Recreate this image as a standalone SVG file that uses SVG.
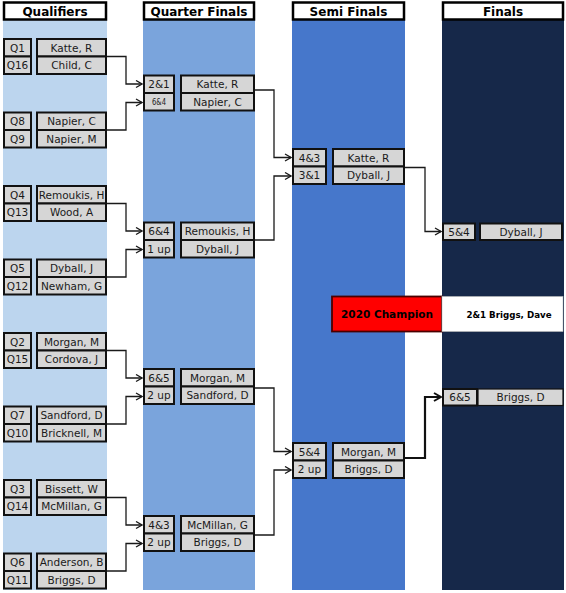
<svg xmlns="http://www.w3.org/2000/svg" width="566" height="593" viewBox="0 0 566 593">
<style>
.bg{stroke:none}
.hd{fill:#fff;stroke:#000;stroke-width:2.5}
.ht{font-family:"DejaVu Sans",Verdana,sans-serif;font-weight:bold;font-size:12px;fill:#000;text-anchor:middle}
.b{fill:#d6d6d6;stroke:#111;stroke-width:2}
.t{font-family:"DejaVu Sans",Verdana,sans-serif;font-size:10.5px;fill:#1a1a1a;text-anchor:middle}
.c{fill:none;stroke:#1a1a1a;stroke-width:1.3}
.ct{fill:none;stroke:#111;stroke-width:2.2}
</style>
<defs>
<marker id="ar" markerUnits="userSpaceOnUse" markerWidth="9" markerHeight="9" refX="8" refY="4.5" orient="auto">
<path d="M2,1 L8,4.5 L2,8" fill="none" stroke="#1a1a1a" stroke-width="1.3"/>
</marker>
<marker id="ar2" markerUnits="userSpaceOnUse" markerWidth="10" markerHeight="10" refX="9" refY="5" orient="auto">
<path d="M2,1 L9,5 L2,9" fill="none" stroke="#111" stroke-width="2"/>
</marker>
</defs>
<rect width="566" height="593" fill="#fff"/>
<g id="columns">
<rect class="bg" x="3" y="20" width="104" height="570" fill="#bcd5ee"/>
<rect class="bg" x="143" y="20" width="112" height="570" fill="#7aa4dc"/>
<rect class="bg" x="292" y="20" width="113" height="570" fill="#4677cb"/>
<rect class="bg" x="442" y="20" width="122" height="570" fill="#162849"/>
</g>
<g id="headers">
<rect class="hd" x="4" y="2.5" width="102" height="17"/><text class="ht" x="55" y="15.5">Qualifiers</text>
<rect class="hd" x="144" y="2.5" width="110" height="17"/><text class="ht" x="199" y="15.5">Quarter Finals</text>
<rect class="hd" x="293" y="2.5" width="111" height="17"/><text class="ht" x="348.5" y="15.5">Semi Finals</text>
<rect class="hd" x="443" y="2.5" width="120" height="17"/><text class="ht" x="503" y="15.5">Finals</text>
</g>
<g id="connectors">
<path class="c" d="M107,56.5 H126 V84 H142" marker-end="url(#ar)"/>
<path class="c" d="M107,130 H126 V102.5 H142" marker-end="url(#ar)"/>
<path class="c" d="M107,203.5 H126 V231 H142" marker-end="url(#ar)"/>
<path class="c" d="M107,277 H126 V249.5 H142" marker-end="url(#ar)"/>
<path class="c" d="M107,350.5 H126 V378 H142" marker-end="url(#ar)"/>
<path class="c" d="M107,424 H126 V396.5 H142" marker-end="url(#ar)"/>
<path class="c" d="M107,497.5 H126 V525 H142" marker-end="url(#ar)"/>
<path class="c" d="M107,571 H126 V543.5 H142" marker-end="url(#ar)"/>
<path class="c" d="M255,90 H274 V157.5 H291" marker-end="url(#ar)"/>
<path class="c" d="M255,240 H274 V176 H291" marker-end="url(#ar)"/>
<path class="c" d="M255,388 H274 V451.5 H291" marker-end="url(#ar)"/>
<path class="c" d="M255,535 H274 V470 H291" marker-end="url(#ar)"/>
<path class="c" d="M405,167.5 H425 V231.5 H441" marker-end="url(#ar)"/>
<path class="ct" d="M405,458 H425 V397 H441" marker-end="url(#ar2)"/>
</g>
<g id="q1-q16">
<rect class="b" x="4" y="39" width="27" height="17.5"/><rect class="b" x="37" y="39" width="69" height="17.5"/>
<rect class="b" x="4" y="56.5" width="27" height="17.5"/><rect class="b" x="37" y="56.5" width="69" height="17.5"/>
<text class="t" x="17.5" y="51.5">Q1</text><text class="t" x="71.5" y="51.5">Katte, R</text>
<text class="t" x="17.5" y="69">Q16</text><text class="t" x="71.5" y="69">Child, C</text>
</g>
<g id="q8-q9">
<rect class="b" x="4" y="112.5" width="27" height="17.5"/><rect class="b" x="37" y="112.5" width="69" height="17.5"/>
<rect class="b" x="4" y="130" width="27" height="17.5"/><rect class="b" x="37" y="130" width="69" height="17.5"/>
<text class="t" x="17.5" y="125">Q8</text><text class="t" x="71.5" y="125">Napier, C</text>
<text class="t" x="17.5" y="142.5">Q9</text><text class="t" x="71.5" y="142.5">Napier, M</text>
</g>
<g id="q4-q13">
<rect class="b" x="4" y="186" width="27" height="17.5"/><rect class="b" x="37" y="186" width="69" height="17.5"/>
<rect class="b" x="4" y="203.5" width="27" height="17.5"/><rect class="b" x="37" y="203.5" width="69" height="17.5"/>
<text class="t" x="17.5" y="198.5">Q4</text><text class="t" x="71.5" y="198.5">Remoukis, H</text>
<text class="t" x="17.5" y="216">Q13</text><text class="t" x="71.5" y="216">Wood, A</text>
</g>
<g id="q5-q12">
<rect class="b" x="4" y="259.5" width="27" height="17.5"/><rect class="b" x="37" y="259.5" width="69" height="17.5"/>
<rect class="b" x="4" y="277" width="27" height="17.5"/><rect class="b" x="37" y="277" width="69" height="17.5"/>
<text class="t" x="17.5" y="272">Q5</text><text class="t" x="71.5" y="272">Dyball, J</text>
<text class="t" x="17.5" y="289.5">Q12</text><text class="t" x="71.5" y="289.5">Newham, G</text>
</g>
<g id="q2-q15">
<rect class="b" x="4" y="333" width="27" height="17.5"/><rect class="b" x="37" y="333" width="69" height="17.5"/>
<rect class="b" x="4" y="350.5" width="27" height="17.5"/><rect class="b" x="37" y="350.5" width="69" height="17.5"/>
<text class="t" x="17.5" y="345.5">Q2</text><text class="t" x="71.5" y="345.5">Morgan, M</text>
<text class="t" x="17.5" y="363">Q15</text><text class="t" x="71.5" y="363">Cordova, J</text>
</g>
<g id="q7-q10">
<rect class="b" x="4" y="406.5" width="27" height="17.5"/><rect class="b" x="37" y="406.5" width="69" height="17.5"/>
<rect class="b" x="4" y="424" width="27" height="17.5"/><rect class="b" x="37" y="424" width="69" height="17.5"/>
<text class="t" x="17.5" y="419">Q7</text><text class="t" x="71.5" y="419">Sandford, D</text>
<text class="t" x="17.5" y="436.5">Q10</text><text class="t" x="71.5" y="436.5">Bricknell, M</text>
</g>
<g id="q3-q14">
<rect class="b" x="4" y="480" width="27" height="17.5"/><rect class="b" x="37" y="480" width="69" height="17.5"/>
<rect class="b" x="4" y="497.5" width="27" height="17.5"/><rect class="b" x="37" y="497.5" width="69" height="17.5"/>
<text class="t" x="17.5" y="492.5">Q3</text><text class="t" x="71.5" y="492.5">Bissett, W</text>
<text class="t" x="17.5" y="510">Q14</text><text class="t" x="71.5" y="510">McMillan, G</text>
</g>
<g id="q6-q11">
<rect class="b" x="4" y="553.5" width="27" height="17.5"/><rect class="b" x="37" y="553.5" width="69" height="17.5"/>
<rect class="b" x="4" y="571" width="27" height="17.5"/><rect class="b" x="37" y="571" width="69" height="17.5"/>
<text class="t" x="17.5" y="566">Q6</text><text class="t" x="71.5" y="566">Anderson, B</text>
<text class="t" x="17.5" y="583.5">Q11</text><text class="t" x="71.5" y="583.5">Briggs, D</text>
</g>
<g id="qf1">
<rect class="b" x="144" y="75.5" width="30" height="17.5"/><rect class="b" x="181" y="75.5" width="73" height="17.5"/>
<rect class="b" x="144" y="93" width="30" height="17.5"/><rect class="b" x="181" y="93" width="73" height="17.5"/>
<text class="t" x="159" y="88">2&amp;1</text><text class="t" x="217.5" y="88">Katte, R</text>
<text class="t" x="159" y="105" style="font-size:9px" textLength="14" lengthAdjust="spacingAndGlyphs">6&amp;4</text><text class="t" x="217.5" y="105.5">Napier, C</text>
</g>
<g id="qf2">
<rect class="b" x="144" y="222.5" width="30" height="17.5"/><rect class="b" x="181" y="222.5" width="73" height="17.5"/>
<rect class="b" x="144" y="240" width="30" height="17.5"/><rect class="b" x="181" y="240" width="73" height="17.5"/>
<text class="t" x="159" y="235">6&amp;4</text><text class="t" x="217.5" y="235">Remoukis, H</text>
<text class="t" x="159" y="252.5">1 up</text><text class="t" x="217.5" y="252.5">Dyball, J</text>
</g>
<g id="qf3">
<rect class="b" x="144" y="369" width="30" height="17.5"/><rect class="b" x="181" y="369" width="73" height="17.5"/>
<rect class="b" x="144" y="386.5" width="30" height="17.5"/><rect class="b" x="181" y="386.5" width="73" height="17.5"/>
<text class="t" x="159" y="381.5">6&amp;5</text><text class="t" x="217.5" y="381.5">Morgan, M</text>
<text class="t" x="159" y="399">2 up</text><text class="t" x="217.5" y="399">Sandford, D</text>
</g>
<g id="qf4">
<rect class="b" x="144" y="516" width="30" height="17.5"/><rect class="b" x="181" y="516" width="73" height="17.5"/>
<rect class="b" x="144" y="533.5" width="30" height="17.5"/><rect class="b" x="181" y="533.5" width="73" height="17.5"/>
<text class="t" x="159" y="528.5">4&amp;3</text><text class="t" x="217.5" y="528.5">McMillan, G</text>
<text class="t" x="159" y="546">2 up</text><text class="t" x="217.5" y="546">Briggs, D</text>
</g>
<g id="sf1">
<rect class="b" x="293" y="149" width="33" height="17.5"/><rect class="b" x="333" y="149" width="71" height="17.5"/>
<rect class="b" x="293" y="166.5" width="33" height="17.5"/><rect class="b" x="333" y="166.5" width="71" height="17.5"/>
<text class="t" x="309.5" y="161.5">4&amp;3</text><text class="t" x="368.5" y="161.5">Katte, R</text>
<text class="t" x="309.5" y="179">3&amp;1</text><text class="t" x="368.5" y="179">Dyball, J</text>
</g>
<g id="sf2">
<rect class="b" x="293" y="443" width="33" height="17.5"/><rect class="b" x="333" y="443" width="71" height="17.5"/>
<rect class="b" x="293" y="460.5" width="33" height="17.5"/><rect class="b" x="333" y="460.5" width="71" height="17.5"/>
<text class="t" x="309.5" y="455.5">5&amp;4</text><text class="t" x="368.5" y="455.5">Morgan, M</text>
<text class="t" x="309.5" y="473">2 up</text><text class="t" x="368.5" y="473">Briggs, D</text>
</g>
<g id="f1">
<rect class="b" x="443" y="223.5" width="32" height="16.5"/><rect class="b" x="480" y="223.5" width="82" height="16.5"/>
<text class="t" x="459" y="235.5">5&amp;4</text><text class="t" x="521" y="235.5">Dyball, J</text>
</g>
<g id="f2">
<rect class="b" x="443" y="389" width="34" height="16.5"/><rect class="b" x="478" y="389" width="85" height="16.5" style="stroke-width:1.2"/>
<text class="t" x="460" y="401">6&amp;5</text><text class="t" x="520.5" y="401">Briggs, D</text>
</g>
<g id="champion">
<rect x="332" y="296.5" width="110" height="35" fill="#ff0000" stroke="#4a0000" stroke-width="1.8"/>
<rect x="442" y="296.5" width="121" height="35" fill="#ffffff" stroke="#bbbbbb" stroke-width="0.6"/>
<text x="387" y="318" style="font-family:'DejaVu Sans',Verdana,sans-serif;font-weight:bold;font-size:10.5px;fill:#000;text-anchor:middle">2020 Champion</text>
<text x="509" y="317.5" style="font-family:'DejaVu Sans',Verdana,sans-serif;font-weight:bold;font-size:8.7px;fill:#000;text-anchor:middle">2&amp;1 Briggs, Dave</text>
</g>
</svg>
